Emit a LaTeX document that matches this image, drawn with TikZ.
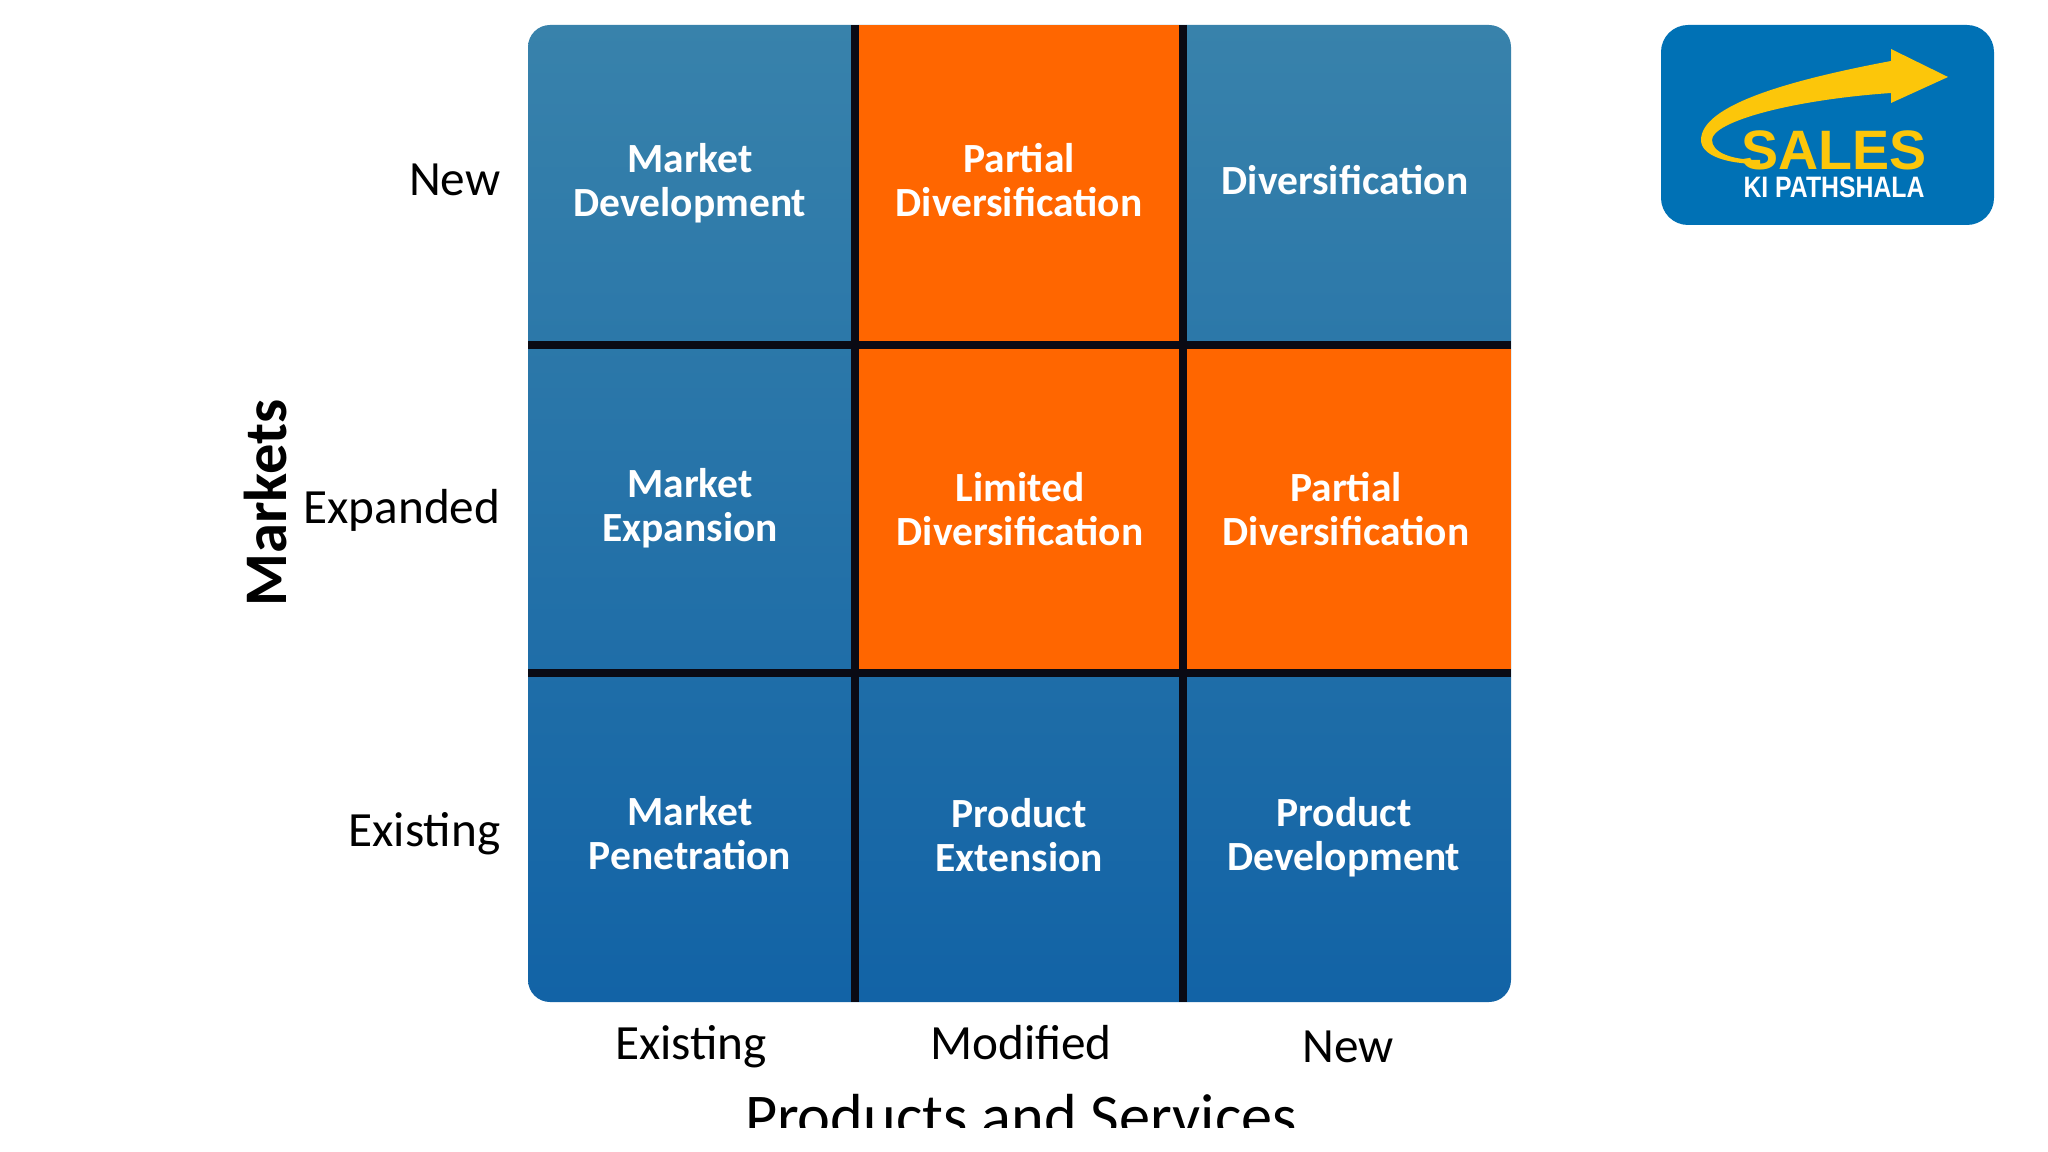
\documentclass[tikz,border=0pt]{standalone}
\usepackage{fontspec}
\setmainfont{Carlito}
\newfontfamily\logofont{Liberation Sans}
\usepackage{tikz}
\definecolor{celltop}{HTML}{3882AB}
\definecolor{cellbottom}{HTML}{1263A6}
\definecolor{cellorange}{HTML}{FF6600}
\definecolor{gridblack}{HTML}{0A0A14}
\definecolor{logoblue}{HTML}{0071B5}
\definecolor{logoyellow}{HTML}{FCC60A}
\tikzset{
    celllabel/.style={text=white, align=center, inner sep=0pt, font=\fontsize{11.8}{12.6}\selectfont\bfseries},
    axislabel/.style={text=black, inner sep=0pt, font=\fontsize{14}{15}\selectfont},
    axistitle/.style={text=black, inner sep=0pt, font=\fontsize{17.7}{18}\selectfont},
}
\begin{document}
\begin{tikzpicture}[x=0.01cm, y=-0.01cm]
    \useasboundingbox (0,0) rectangle (2048,1152);

    \shade[top color=celltop, bottom color=cellbottom, rounded corners=0.22cm] (528,25) rectangle (1511,1002);

    \fill[cellorange] (855,25) rectangle (1183,345);
    \fill[cellorange] (855,345) rectangle (1183,673);
    \fill[cellorange] (1183,345) rectangle (1511,673);

    \foreach \x in {855,1183}
        \draw[gridblack, line width=2.2pt] (\x,25) -- (\x,1002);
    \foreach \y in {345,673}
        \draw[gridblack, line width=2.2pt] (528,\y) -- (1511,\y);

    \node[celllabel] (marketdev) at (690,183) {Market\\Development};
    \node[celllabel] (partialtop) at (1019,180) {Partial\\Diversification};
    \node[celllabel] (diversification) at (1345,180) {Diversification};
    \node[celllabel] (marketexp) at (690,508) {Market\\Expansion};
    \node[celllabel] (limited) at (1020,509) {Limited\\Diversification};
    \node[celllabel] (partialmid) at (1346,509) {Partial\\Diversification};
    \node[celllabel] (marketpen) at (690,833) {Market\\Penetration};
    \node[celllabel] (productext) at (1019,835) {Product\\Extension};
    \node[celllabel] (productdev) at (1344,837) {Product\\Development};

    \node[axislabel, anchor=east] (rownew) at (501,180) {New};
    \node[axislabel, anchor=east] (rowexp) at (501,510) {Expanded};
    \node[axislabel, anchor=east] (rowold) at (501,834) {Existing};
    \node[axislabel] (colold) at (691,1047) {Existing};
    \node[axislabel] (colmod) at (1021,1043) {Modified};
    \node[axislabel] (colnew) at (1348,1047) {New};

    \node[axistitle, rotate=90, font=\fontsize{17.2}{18}\selectfont\bfseries] (markets) at (265,503) {Markets};
    \begin{scope}
        \clip (600,1080) rectangle (1400,1127);
        \node[axistitle, anchor=base] (products) at (1021,1137) {Products and Services};
    \end{scope}

    \fill[logoblue, rounded corners=0.27cm] (1661,25) rectangle (1994,225);
    \fill[logoyellow] (1891,61) -- (1891,49) -- (1948,77) -- (1891,103) -- (1891,93)
        .. controls (1790,100) and (1712,122) .. (1712,140)
        .. controls (1712,152) and (1730,160) .. (1760,160)
        -- (1760,164)
        .. controls (1725,164) and (1701,155) .. (1701,140)
        .. controls (1701,105) and (1790,80) .. cycle;
    \node[text=logoyellow, inner sep=0pt, font=\logofont\fontsize{15.8}{16}\selectfont\bfseries, anchor=base] (sales) at (1834,170) {SALES};
    \node[text=white, inner sep=0pt, font=\logofont\fontsize{8.4}{9}\selectfont\bfseries, anchor=base] (pathshala) at (1834,198) {\scalebox{.84}[1]{KI PATHSHALA}};
\end{tikzpicture}
\end{document}
